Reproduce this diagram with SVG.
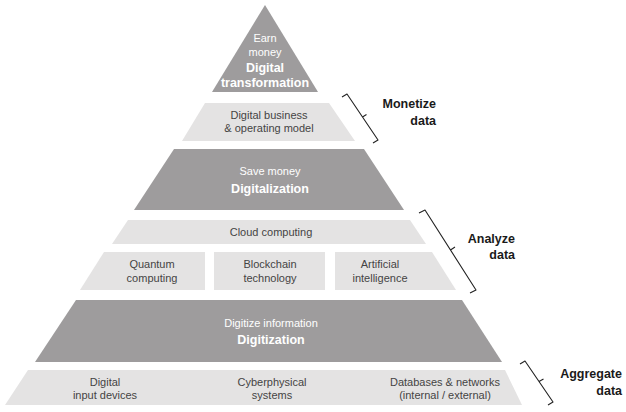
<svg xmlns="http://www.w3.org/2000/svg" width="626" height="412" viewBox="0 0 626 412">
<style>
.dk{fill:#9e9c9d}
.lt{fill:#e4e3e3}
text{font-family:"Liberation Sans","DejaVu Sans",sans-serif;text-anchor:middle}
.w{fill:#ffffff;font-size:11px}
.wb{fill:#ffffff;font-size:12.5px;font-weight:bold}
.g{fill:#444444;font-size:11px}
.lb{fill:#1a1a1a;font-size:12.5px;font-weight:bold;text-anchor:end}
.br{fill:none;stroke:#222222;stroke-width:1.1;stroke-linejoin:round}
</style>
<rect width="626" height="412" fill="#ffffff"/>
<g id="digital-transformation">
<polygon class="dk" points="265,5 318,92 212,92"/>
<text class="w" x="265" y="42">Earn</text>
<text class="w" x="265" y="56">money</text>
<text class="wb" x="265" y="72">Digital</text>
<text class="wb" x="265" y="87">transformation</text>
</g>
<g id="digital-business">
<polygon class="lt" points="205,103 329,103 355,141 182,141"/>
<text class="g" x="269" y="119">Digital business</text>
<text class="g" x="269" y="132">&amp; operating model</text>
</g>
<g id="digitalization">
<polygon class="dk" points="174,149 364,149 404,210 134,210"/>
<text class="w" x="270" y="175">Save money</text>
<text class="wb" x="270" y="193">Digitalization</text>
</g>
<g id="cloud-computing">
<polygon class="lt" points="128,220 410,220 426,244 112,244"/>
<text class="g" x="271" y="236">Cloud computing</text>
</g>
<g id="quantum-computing">
<polygon class="lt" points="104,252 205,252 205,290 80,290"/>
<text class="g" x="152" y="268">Quantum</text>
<text class="g" x="152" y="282">computing</text>
</g>
<g id="blockchain">
<rect class="lt" x="214" y="252" width="111" height="38"/>
<text class="g" x="270" y="268">Blockchain</text>
<text class="g" x="270" y="282">technology</text>
</g>
<g id="artificial-intelligence">
<polygon class="lt" points="335,252 432,252 456,290 335,290"/>
<text class="g" x="380" y="268">Artificial</text>
<text class="g" x="380" y="282">intelligence</text>
</g>
<g id="digitization">
<polygon class="dk" points="76,300 462,300 502,362 35,362"/>
<text class="w" x="271" y="327">Digitize information</text>
<text class="wb" x="271" y="344">Digitization</text>
</g>
<g id="aggregate-layer">
<polygon class="lt" points="28,370 505,370 522,405 5,405"/>
<text class="g" x="105" y="386">Digital</text>
<text class="g" x="105" y="399">input devices</text>
<text class="g" x="272" y="386">Cyberphysical</text>
<text class="g" x="272" y="399">systems</text>
<text class="g" x="445" y="386">Databases &amp; networks</text>
<text class="g" x="445" y="399">(internal / external)</text>
</g>
<g id="connectors">
<path class="br" d="M342,97 L347,94 L378,140 L373,143 M362.5,117 L366.5,114.5"/>
<path class="br" d="M419,213 L425,210 L476,290 L470,293 M450.5,250 L455,247"/>
<path class="br" d="M520,364 L525,361 L553,402 L548,405 M539,381.5 L543.5,379"/>
</g>
<g id="labels">
<text class="lb" x="436" y="108">Monetize</text>
<text class="lb" x="436" y="125">data</text>
<text class="lb" x="515" y="243">Analyze</text>
<text class="lb" x="515" y="259">data</text>
<text class="lb" x="622" y="378">Aggregate</text>
<text class="lb" x="622" y="395">data</text>
</g>
</svg>
